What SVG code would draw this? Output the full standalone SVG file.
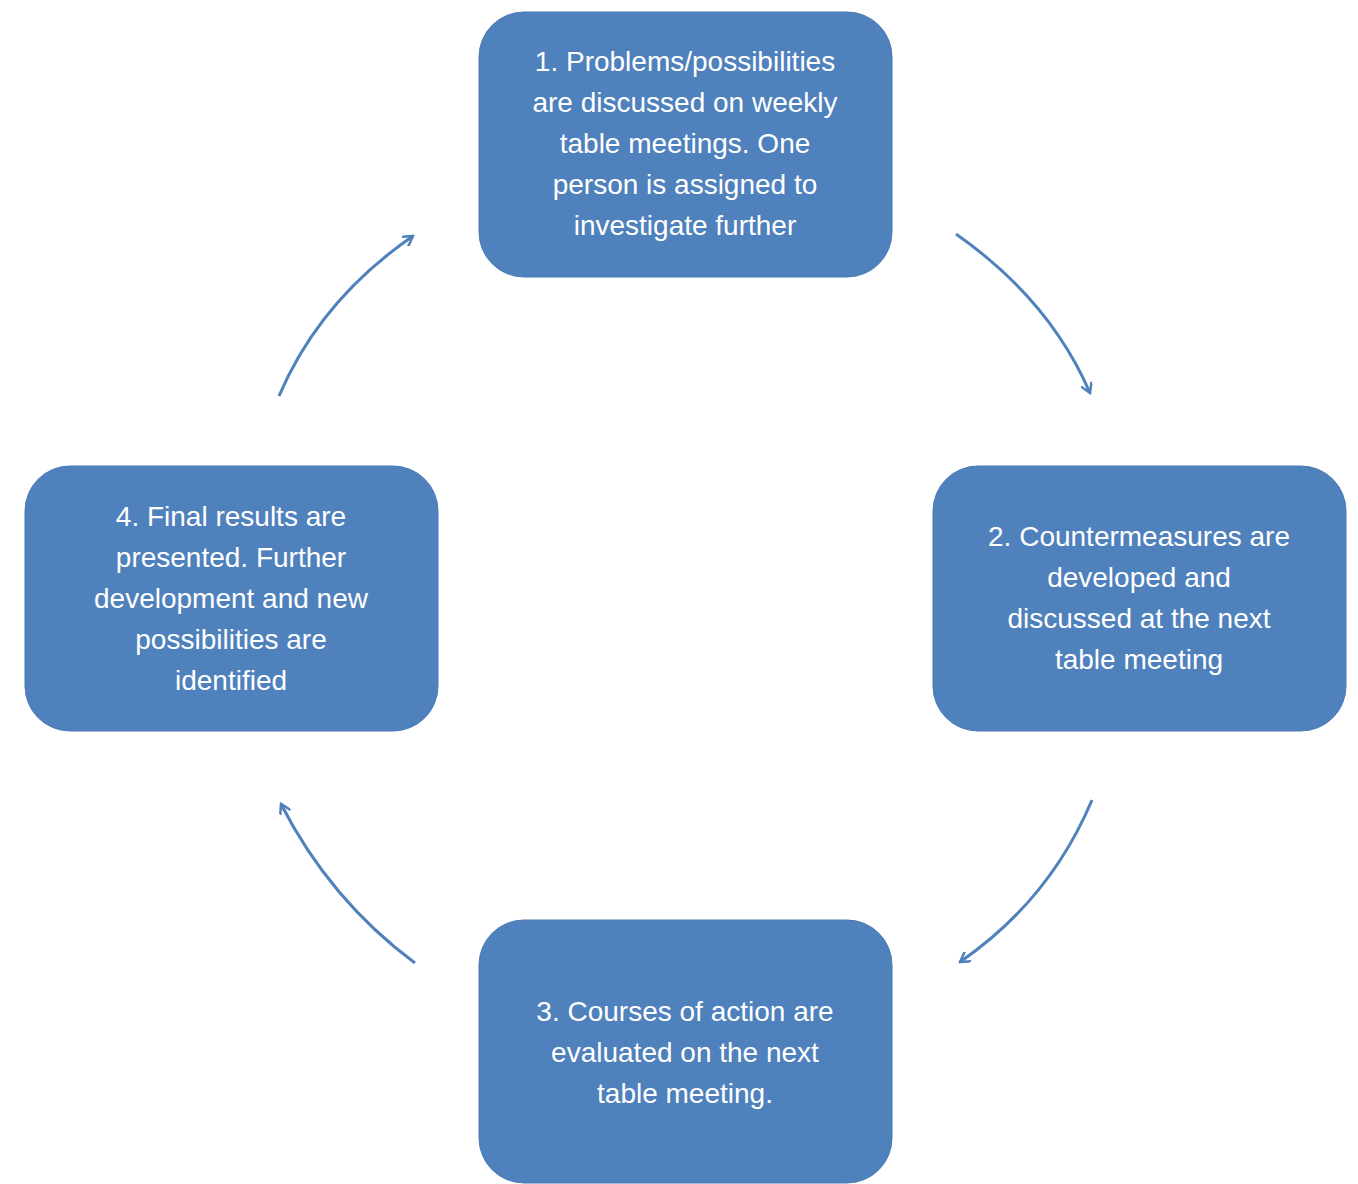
<svg xmlns="http://www.w3.org/2000/svg" width="1358" height="1184" viewBox="0 0 1358 1184">
<style>
.box{fill:#4F81BD;stroke:#4A7AB5;stroke-width:1}
.t{font-family:"Liberation Sans",Arial,sans-serif;font-size:28px;fill:#fff;text-anchor:middle}
.c{fill:none;stroke:#4F81BD;stroke-width:3;marker-end:url(#ah)}
</style>
<defs>
<marker id="ah" markerWidth="12" markerHeight="12" refX="10" refY="6" orient="auto" markerUnits="userSpaceOnUse" viewBox="0 0 12 12">
<path d="M0,0 L10,6 L0,12" fill="none" stroke="#4F81BD" stroke-width="2.5" transform="scale(1)"/>
</marker>
</defs>
<rect width="1358" height="1184" fill="#fff"/>
<g id="n1"><rect class="box" x="479" y="12" width="413" height="265" rx="45"/>
<text class="t" x="685" y="71">1. Problems/possibilities</text>
<text class="t" x="685" y="112">are discussed on weekly</text>
<text class="t" x="685" y="153">table meetings. One</text>
<text class="t" x="685" y="194">person is assigned to</text>
<text class="t" x="685" y="235">investigate further</text></g>
<g id="n2"><rect class="box" x="933" y="466" width="413" height="265" rx="45"/>
<text class="t" x="1139" y="546">2. Countermeasures are</text>
<text class="t" x="1139" y="587">developed and</text>
<text class="t" x="1139" y="628">discussed at the next</text>
<text class="t" x="1139" y="669">table meeting</text></g>
<g id="n3"><rect class="box" x="479" y="920" width="413" height="263" rx="45"/>
<text class="t" x="685" y="1021">3. Courses of action are</text>
<text class="t" x="685" y="1062">evaluated on the next</text>
<text class="t" x="685" y="1103">table meeting.</text></g>
<g id="n4"><rect class="box" x="25" y="466" width="413" height="265" rx="45"/>
<text class="t" x="231" y="526">4. Final results are</text>
<text class="t" x="231" y="567">presented. Further</text>
<text class="t" x="231" y="608">development and  new</text>
<text class="t" x="231" y="649">possibilities are</text>
<text class="t" x="231" y="690">identified</text></g>
<g id="connectors">
<path class="c" d="M956,234 Q1050,300 1090,393"/>
<path class="c" d="M1092,800 Q1050,900 960,962"/>
<path class="c" d="M415,963 Q330,900 281,804"/>
<path class="c" d="M279,396 Q320,300 413,236"/>
</g>
</svg>
